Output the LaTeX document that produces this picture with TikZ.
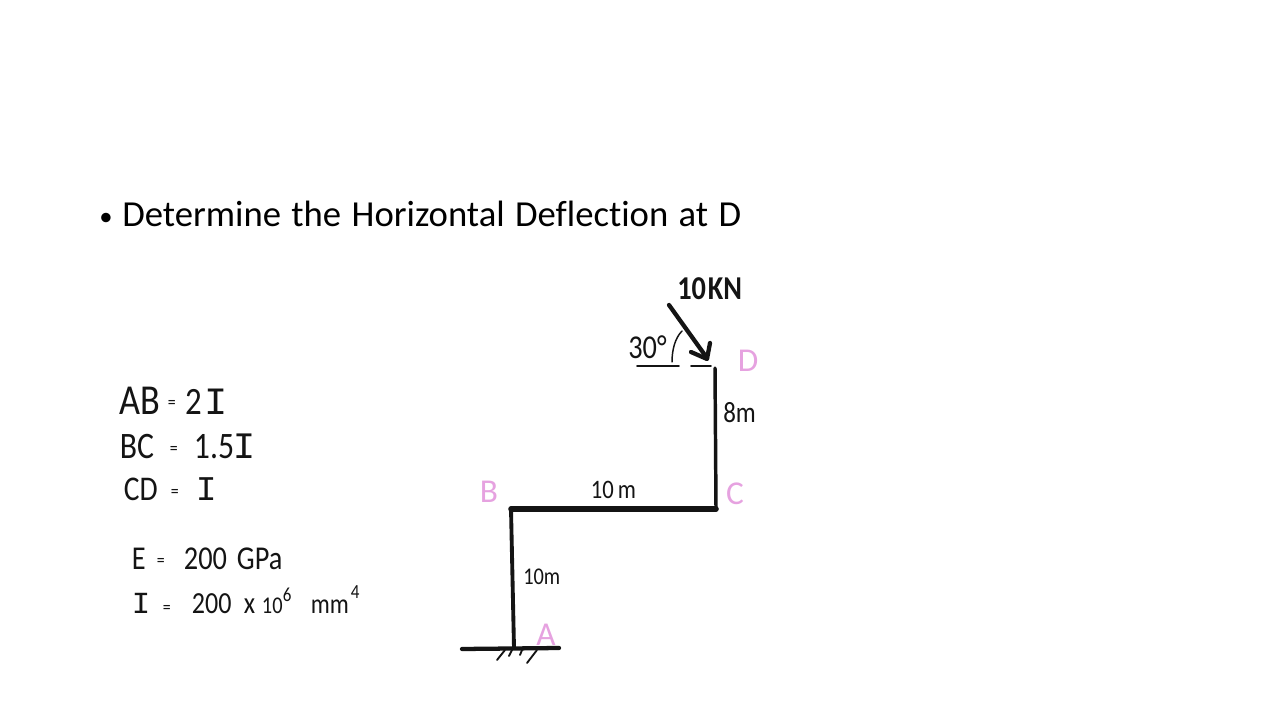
\documentclass[tikz,border=0pt]{standalone}
\usepackage{fontspec}
\setmainfont{Carlito}[Ligatures=NoCommon]
\newfontfamily\handf[FakeStretch=0.85]{Carlito}
\newfontfamily\Ifont{Liberation Mono}
\usetikzlibrary{arrows.meta}
\definecolor{pinklabel}{HTML}{E6A2E0}
\definecolor{inkc}{HTML}{141414}
% place text at an offset (in reference px) from the node's origin, taking no width
\newcommand{\hpos}[2]{\makebox[0pt][l]{\hspace{#1\dimexpr 0.75pt\relax}#2}}
\newcommand{\fsz}[1]{\fontsize{#1}{#1}\selectfont}
\newcommand{\smeq}[1]{\raisebox{#1pt}{\fsz{14}=}}
\tikzset{
  x=0.75pt,y=-0.75pt,
  member/.style={draw=inkc,line width=#1,line cap=round,line join=round},
  thinline/.style={draw=inkc,line width=1.4pt,line cap=round},
  heavy/.style={draw=inkc,line width=3.2pt,line cap=round,line join=round},
  hand/.style={font=\handf,text=inkc,inner sep=0pt,anchor=base west},
  joint/.style={font=\fsz{25},text=pinklabel,inner sep=0pt},
}
\begin{document}
\begin{tikzpicture}
\useasboundingbox[fill=white] (0,0) rectangle (1280,720);
% title
\node[anchor=base west,inner sep=0pt,text=black,font=\fsz{27.5}] (title) at (122,227) {\hpos{-23}{\raisebox{1.5pt}{\fsz{20}•}}Determine\hspace{1.6pt} the\hspace{1.6pt} Horizontal\hspace{1.6pt} Deflection\hspace{1.6pt} at\hspace{1.6pt} D};
% frame points
\coordinate (a) at (514,648);
\coordinate (b) at (511,509);
\coordinate (c) at (716,509);
\coordinate (d) at (715,368);
\draw[member=2.9pt] (a) -- (b);
\draw[member=4.2pt] (b) -- (c);
\draw[member=2.6pt] (c) -- (d);
% support
\coordinate (g1) at (462,649);
\coordinate (g2) at (559,648);
\draw[heavy] (g1) -- (g2);
\coordinate (h1a) at (505,650); \coordinate (h1b) at (497,660);
\coordinate (h2a) at (512,650); \coordinate (h2b) at (509,656);
\coordinate (h3a) at (522,650); \coordinate (h3b) at (520,655);
\coordinate (h4a) at (537,650); \coordinate (h4b) at (527,663);
\draw[thinline] (h1a) -- (h1b);
\draw[thinline] (h2a) -- (h2b);
\draw[thinline] (h3a) -- (h3b);
\draw[thinline] (h4a) -- (h4b);
% load
\coordinate (p1) at (669,305);
\coordinate (p2) at (707,358);
\draw[heavy] (p1) -- (p2);
\coordinate (w1) at (691,352); \coordinate (w2) at (707,359); \coordinate (w3) at (710,343);
\draw[heavy] (w1) -- (w2) -- (w3);
% base lines and angle arc
\coordinate (s1) at (637,366); \coordinate (s2) at (679,366);
\coordinate (s3) at (691,366); \coordinate (s4) at (711,366);
\draw[thinline] (s1) -- (s2);
\draw[thinline] (s3) -- (s4);
\coordinate (r1) at (672,362); \coordinate (r2) at (682,331);
\draw[thinline,line width=1.1pt] (r1) .. controls (672,350) and (675,338) .. (r2);
% labels
\node[hand] (load) at (677,299) {\fsz{25}\bfseries 10\hspace{1.5pt}KN};
\node[hand] (ang) at (628,358) {\fsz{25}30°};
\node[joint] (D) at (748,361) {D};
\node[joint] (C) at (735,494) {C};
\node[joint] (B) at (489,492) {B};
\node[joint] (A) at (546,635) {A};
\node[hand] (l8) at (723,422) {\fsz{22}8m};
\node[hand] (l10h) at (590,498) {\fsz{20}\hpos{0}{10}\hpos{27}{m}};
\node[hand] (l10v) at (523,584) {\fsz{18}10m};
% properties
\node[hand] (ab) at (119,414) {\fsz{32}\hpos{0}{AB}\hpos{48}{\smeq{4}}\hpos{66}{\fsz{29}2}\hpos{85}{\fsz{29}\Ifont I}};
\node[hand] (bc) at (119,458) {\fsz{28}\hpos{0}{BC}\hpos{50}{\smeq{3}}\hpos{74}{1.5}\hpos{113}{\Ifont I}};
\node[hand] (cd) at (123,500) {\fsz{26}\hpos{0}{CD}\hpos{47}{\smeq{2}}\hpos{72}{\Ifont I}};
\node[hand] (e) at (131,569) {\fsz{25}\hpos{0}{E}\hpos{25}{\smeq{2}}\hpos{52}{200}\hpos{105}{GPa}};
\node[hand] (i) at (131,613) {\fsz{23}\hpos{0}{\Ifont I}\hpos{31}{\smeq{0}}\hpos{60}{200}\hpos{112}{x}\hpos{130}{\fsz{18}10}\hpos{151}{\raisebox{9pt}{\fsz{15}6}}\hpos{179}{\fsz{21}mm}\hpos{219}{\raisebox{11pt}{\fsz{15}4}}};
\end{tikzpicture}
\end{document}
